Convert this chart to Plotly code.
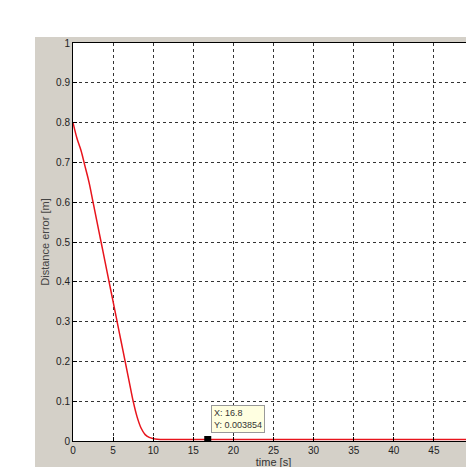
import plotly.graph_objects as go

t = [0, 0.5, 1, 1.5, 2, 2.5, 3, 3.5, 4, 4.5, 5, 5.5, 6, 6.5, 7, 7.5, 8, 8.5, 9, 9.5, 10, 10.5, 12, 20, 30, 40, 50]
err = [0.80, 0.76, 0.73, 0.69, 0.65, 0.60, 0.55, 0.50, 0.45, 0.40, 0.35, 0.30, 0.25, 0.20, 0.15, 0.10, 0.06, 0.032, 0.016, 0.009, 0.006, 0.0045, 0.0039, 0.00385, 0.00385, 0.00385, 0.00385]
tip_x = [16.8]
tip_y = [0.003854]
xticks = list(range(0, 51, 5))
yticks = [i / 10 for i in range(11)]

fig = go.Figure()
fig.add_trace(go.Scatter(x=t, y=err, mode="lines", line=dict(color="#e8141c", width=1.5, shape="spline"), showlegend=False))
fig.add_trace(go.Scatter(x=tip_x, y=tip_y, mode="markers", marker=dict(symbol="square", size=7, color="black"), showlegend=False))

fig.add_shape(type="rect", xref="paper", yref="paper", x0=-38/401, x1=1+8/401, y0=-34/398, y1=1+6/398,
              fillcolor="#d4d0c8", line=dict(width=0), layer="below")
fig.add_shape(type="rect", xref="paper", yref="paper", x0=0, x1=1, y0=0, y1=1,
              fillcolor="white", line=dict(width=0), layer="below")
fig.add_annotation(x=tip_x[0], y=tip_y[0], xref="x", yref="y", text="X: 16.8<br>Y: 0.003854", showarrow=False,
                   xanchor="left", yanchor="bottom", xshift=3, yshift=6, align="left",
                   font=dict(size=9, color="#333", family="Arial"), bgcolor="#ffffe1", bordercolor="#999", borderwidth=1, borderpad=2)

axis = dict(showgrid=True, gridcolor="#333", griddash="dot", gridwidth=1, showline=True, linecolor="black", mirror=True,
            ticks="inside", ticklen=4, tickcolor="black", zeroline=False, automargin=False,
            tickfont=dict(size=10, family="Arial", color="#222"))
fig.update_xaxes(range=[0, 50], tickvals=xticks, title=dict(text="time [s]", font=dict(size=11, family="Arial", color="#333"), standoff=2), **axis)
fig.update_yaxes(range=[0, 1], tickvals=yticks, ticktext=["0", "0.1", "0.2", "0.3", "0.4", "0.5", "0.6", "0.7", "0.8", "0.9", "1"],
                 title=dict(text="Distance error [m]", font=dict(size=11, family="Arial", color="#444"), standoff=4), **axis)
fig.update_layout(width=474, height=467, margin=dict(l=65, r=8, t=35, b=34), paper_bgcolor="white", plot_bgcolor="white")
fig.write_html("out.html")
